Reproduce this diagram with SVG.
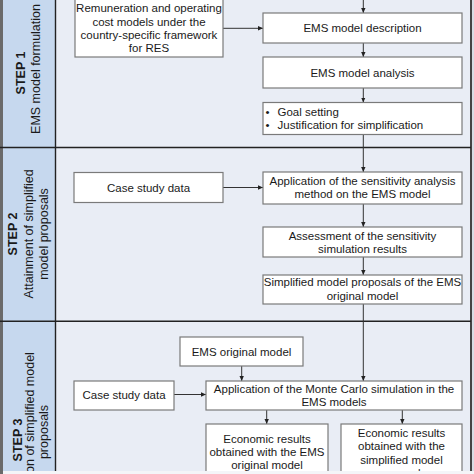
<svg xmlns="http://www.w3.org/2000/svg" width="474" height="474" viewBox="0 0 474 474">
<defs>
<style>
.box{fill:#ffffff;stroke:#7a7a7a;stroke-width:1.2}
.t{font-family:"Liberation Sans",Arial,sans-serif;font-size:11.5px;fill:#1a1a1a;text-anchor:middle}
.tl{font-family:"Liberation Sans",Arial,sans-serif;font-size:11.5px;fill:#1a1a1a}
.lab{font-family:"Liberation Sans",Arial,sans-serif;font-size:12.5px;fill:#1a1a1a;text-anchor:middle}
.labb{font-family:"Liberation Sans",Arial,sans-serif;font-size:12.5px;font-weight:bold;fill:#1a1a1a;text-anchor:middle}
.c{fill:none;stroke:#333;stroke-width:1;marker-end:url(#ah)}
.sep{stroke:#222;stroke-width:1.4}
</style>
<marker id="ah" markerWidth="6" markerHeight="6" refX="5" refY="3" orient="auto" markerUnits="userSpaceOnUse">
<path d="M0,0.8 L5,3 L0,5.2 z" fill="#222"/>
</marker>
</defs>
<rect x="0" y="0" width="474" height="474" fill="#e9edf5"/>
<rect x="0" y="0" width="56" height="474" fill="#c6d8ee"/>
<rect x="0" y="0" width="3" height="474" fill="#6a6a6a"/>
<rect x="472" y="0" width="2" height="474" fill="#d8dce4"/>
<line x1="471" y1="0" x2="471" y2="474" stroke="#444" stroke-width="2"/>
<line class="sep" x1="55.5" y1="0" x2="55.5" y2="474"/>
<line class="sep" x1="0" y1="147.5" x2="471" y2="147.5"/>
<line class="sep" x1="0" y1="321.3" x2="471" y2="321.3"/>

<g id="step1-label">
<text class="labb" transform="translate(20.5,73) rotate(-90)" y="4.5">STEP 1</text>
<text class="lab" transform="translate(35,69) rotate(-90)" y="4.5">EMS model formulation</text>
</g>
<g id="step2-label">
<text class="labb" transform="translate(12,234) rotate(-90)" y="4.5">STEP 2</text>
<text class="lab" transform="translate(28,234) rotate(-90)" y="4.5">Attainment of simplified</text>
<text class="lab" transform="translate(43,234) rotate(-90)" y="4.5">model proposals</text>
</g>
<g id="step3-label">
<text class="labb" transform="translate(17,440) rotate(-90)" y="4.5">STEP 3</text>
<text class="lab" transform="translate(29,473) rotate(-90)" y="4.5" style="text-anchor:start">on of simplified model</text>
<text class="lab" transform="translate(43,432) rotate(-90)" y="4.5">proposals</text>
</g>

<g id="connectors">
<path class="c" d="M363.3 0 V13"/>
<path class="c" d="M223 28.3 H263"/>
<path class="c" d="M363.3 43 V57"/>
<path class="c" d="M363.3 88 V102.5"/>
<path class="c" d="M363.3 134.5 V172"/>
<path class="c" d="M223 187.5 H263"/>
<path class="c" d="M363.3 204 V227"/>
<path class="c" d="M363.3 257 V275"/>
<path class="c" d="M363.3 304 V381"/>
<path class="c" d="M241.7 366 V381"/>
<path class="c" d="M174 394.5 H206"/>
<path class="c" d="M266.7 410 V424"/>
<path class="c" d="M402.3 410 V424"/>
</g>

<g id="remuneration">
<rect class="box" x="75" y="-5" width="148" height="62"/>
<text class="t" x="149" y="11.5">Remuneration and operating</text>
<text class="t" x="149" y="25.5">cost models under the</text>
<text class="t" x="149" y="38.5">country-specific framework</text>
<text class="t" x="149" y="51.5">for RES</text>
</g>
<g id="ems-description">
<rect class="box" x="263" y="13" width="199" height="30"/>
<text class="t" x="362.5" y="32">EMS model description</text>
</g>
<g id="ems-analysis">
<rect class="box" x="263" y="57" width="199" height="31"/>
<text class="t" x="362.5" y="77">EMS model analysis</text>
</g>
<g id="goals">
<rect class="box" x="263" y="102.5" width="199" height="32"/>
<text class="tl" x="265.5" y="115.7">•</text>
<text class="tl" x="277.5" y="115.7">Goal setting</text>
<text class="tl" x="265.5" y="129.3">•</text>
<text class="tl" x="277.5" y="129.3">Justification for simplification</text>
</g>
<g id="case-study-1">
<rect class="box" x="74" y="172.5" width="149" height="30"/>
<text class="t" x="148.5" y="191.5">Case study data</text>
</g>
<g id="sensitivity-application">
<rect class="box" x="263" y="172" width="199" height="32"/>
<text class="t" x="362.5" y="185">Application of the sensitivity analysis</text>
<text class="t" x="362.5" y="198.3">method on the EMS model</text>
</g>
<g id="assessment">
<rect class="box" x="263" y="227" width="199" height="30"/>
<text class="t" x="362.5" y="239.7">Assessment of the sensitivity</text>
<text class="t" x="362.5" y="253">simulation results</text>
</g>
<g id="simplified-proposals">
<rect class="box" x="263" y="275" width="199" height="29"/>
<text class="t" x="362.5" y="285.7">Simplified model proposals of the EMS</text>
<text class="t" x="362.5" y="299.7">original model</text>
</g>
<g id="ems-original">
<rect class="box" x="180" y="337" width="123" height="29"/>
<text class="t" x="241.5" y="355.5">EMS original model</text>
</g>
<g id="case-study-2">
<rect class="box" x="74" y="381" width="100" height="29"/>
<text class="t" x="124" y="399">Case study data</text>
</g>
<g id="monte-carlo">
<rect class="box" x="206" y="381" width="256" height="29"/>
<text class="t" x="334" y="392.7">Application of the Monte Carlo simulation in the</text>
<text class="t" x="334" y="405.7">EMS models</text>
</g>
<g id="econ-original">
<rect class="box" x="206" y="424" width="122" height="60"/>
<text class="t" x="267" y="442.5">Economic results</text>
<text class="t" x="267" y="456">obtained with the EMS</text>
<text class="t" x="267" y="469">original model</text>
</g>
<g id="econ-simplified">
<rect class="box" x="341" y="424" width="121" height="60"/>
<text class="t" x="401.5" y="436.5">Economic results</text>
<text class="t" x="401.5" y="450">obtained with the</text>
<text class="t" x="401.5" y="463.5">simplified model</text>
<text class="t" x="401.5" y="477">proposals</text>
</g>
<rect x="3" y="471" width="471" height="3" fill="#f4f5f8"/>
</svg>
